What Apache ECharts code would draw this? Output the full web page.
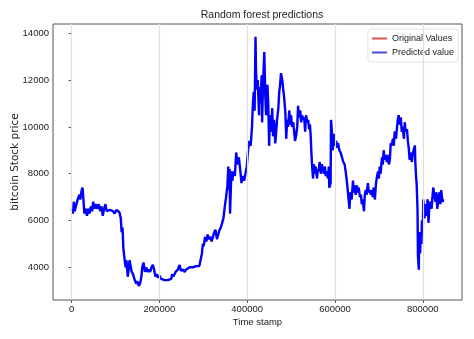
<!DOCTYPE html>
<html>
<head>
<meta charset="utf-8">
<script src="https://cdn.jsdelivr.net/npm/echarts@6/dist/echarts.min.js"></script>
<style>html,body{margin:0;padding:0;background:#fff}#c{width:474px;height:339px}</style>
</head>
<body>
<div id="c"></div>
<script>
const timestamps = [0,3000,5000,7000,11000,14000,18000,20000,23000,25000,27000,29000,32000,35000,38000,41000,44000,47000,49000,52000,55000,58000,62000,65000,68000,71000,74000,77000,80000,87000,94000,98000,102000,106000,109000,112000,114000,116000,118000,121000,123000,125000,128000,130000,132000,134000,137000,140000,143000,147000,150000,153000,156000,159000,161000,164000,167000,170000,173000,176000,179000,182000,185000,188000,191000,194000,197000,200000,204000,208000,212000,216000,219000,223000,227000,229000,232000,237000,242000,246000,249000,254000,257000,261000,265000,269000,272000,276000,280000,284000,288000,291000,295000,297000,299000,301000,304000,307000,310000,313000,316000,319000,322000,325000,328000,331000,334000,337000,340000,343000,346000,349000,352000,355000,357000,358000,360000,361000,364000,366000,369000,372000,375000,378000,381000,384000,387000,390000,393000,396000,399000,402000,405000,408000,411000,413000,415000,417000,419000,420000,422000,424000,427000,428000,430000,433000,434000,436000,439000,441000,443000,446000,448000,450000,452000,455000,457000,459000,461000,464000,466000,468000,471000,473000,475000,477000,480000,482000,484000,487000,489000,491000,493000,496000,498000,500000,502000,505000,507000,509000,512000,514000,516000,518000,521000,523000,525000,528000,530000,532000,534000,537000,539000,541000,543000,545000,546000,548000,550000,552000,554000,556000,559000,561000,563000,565000,568000,570000,572000,575000,577000,579000,581000,584000,586000,587000,590000,591000,594000,595000,597000,600000,603000,605000,607000,610000,613000,616000,619000,622000,625000,628000,631000,633000,635000,638000,641000,643000,645000,647000,650000,652000,654000,657000,659000,661000,663000,666000,668000,670000,672000,675000,677000,679000,682000,684000,686000,688000,691000,693000,695000,698000,700000,702000,704000,707000,709000,711000,713000,716000,718000,720000,723000,725000,727000,729000,732000,734000,736000,739000,741000,743000,745000,748000,750000,752000,754000,757000,759000,761000,764000,766000,768000,770000,773000,775000,777000,779000,782000,783000,785000,786000,788000,789000,791000,792000,794000,795000,797000,798000,800000,801000,804000,806000,808000,811000,813000,815000,817000,820000,822000,824000,826000,829000,831000,833000,836000,838000,840000,842000,845000,847000];
const predictedValues = [6500,6300,6800,6400,6700,6900,7100,6900,7300,7400,6900,6300,6500,6200,6500,6300,6600,6400,6800,6500,6700,6500,6700,6400,6600,6200,6500,6700,6400,6450,6400,6300,6450,6500,6350,6100,5500,5700,4800,4300,4000,4300,3600,3900,4300,4100,3800,3700,3500,3300,3400,3200,3300,3600,4000,4200,3800,4000,3800,3900,3800,4000,4100,3900,3600,3700,3550,3650,3500,3550,3450,3400,3450,3400,3500,3700,3600,3800,3900,4100,3850,3900,3800,3900,3850,4000,3950,4000,3950,4050,4000,4050,4100,4600,5000,4900,5300,5100,5400,5200,5300,5100,5300,5500,5600,5200,5400,5600,5700,5900,6100,6600,7000,7500,8300,7300,8200,6300,8100,7700,8100,7900,8900,8400,8700,8200,7600,7900,7700,8000,8300,9000,9400,9200,10000,11000,11500,10700,13850,12500,11600,12000,10500,11700,11000,12200,10200,11800,13200,11500,10500,11800,11000,9200,10500,9800,10800,9600,10300,9300,9800,10300,10800,11500,11800,12300,12000,11600,11300,10600,9500,10300,10000,10700,10100,10500,10000,10200,9800,9400,9700,10000,10900,10400,10700,10200,10500,10300,10400,9800,10500,10200,10300,9900,10100,9500,9000,8300,7800,8400,8000,8300,7800,8200,8100,8500,8000,8400,8200,8000,8300,7900,8100,7800,8300,7400,7600,10300,9500,9000,9700,9200,9400,9100,9300,9000,8900,8700,8500,8400,8000,7500,6900,6500,7200,6900,7700,7200,7500,7100,7500,7200,7400,7000,7100,6700,6900,6400,7100,7300,7100,7600,7200,7300,7100,7300,7000,7400,6900,7500,7800,8100,7800,8300,8000,8700,8400,9000,8600,8800,8500,8800,8400,8600,9300,9200,9500,9200,9800,9500,9900,10300,10500,10100,10400,9800,10000,9500,10200,9800,9900,9400,9100,8600,8900,8500,8800,9000,9200,8500,7800,7600,6500,4500,3900,5500,4600,5300,5000,6000,5400,6900,6100,6700,6200,6900,5900,6600,6800,6500,7000,7400,7100,6800,7200,6500,7000,7200,6700,7300,6800,6900];
const originalValues = predictedValues;
const xTicks = [0,200000,400000,600000,800000];
const yTicks = [4000,6000,8000,10000,12000,14000];
const seriesNames = ['Original Values','Predicted value'];

const font = '"Liberation Sans",Roboto,sans-serif';
const chart = echarts.init(document.getElementById('c'), null, {renderer:'canvas'});
const pairs = arr => timestamps.map((t,i)=>[t,arr[i]]);
chart.setOption({
  animation:false,
  backgroundColor:'#fff',
  title:{text:'Random forest predictions',left:257,top:5,textAlign:'center',
    textStyle:{fontFamily:font,fontSize:10.5,fontWeight:'normal',color:'#222'}},
  legend:{orient:'vertical',right:16,top:29,padding:[5,4,5,4],itemGap:5,
    backgroundColor:'#fff',borderColor:'#e2e2e2',borderWidth:1,borderRadius:3,
    icon:'rect',itemWidth:15,itemHeight:2,
    textStyle:{fontFamily:font,fontSize:9,color:'#222'},
    data:seriesNames},
  grid:{left:53,right:12,top:24,bottom:39,show:true,borderColor:'#555',borderWidth:1,
    backgroundColor:'#fff',containLabel:false,outerBoundsMode:'none'},
  xAxis:{type:'value',min:-42350,max:889350,
    name:'Time stamp',nameLocation:'middle',nameGap:17,nameMoveOverlap:false,
    nameTextStyle:{fontFamily:font,fontSize:9.5,color:'#222'},
    axisLine:{show:false},splitLine:{show:false},
    axisTick:{show:true,inside:false,length:3,customValues:xTicks,lineStyle:{color:'#555'}},
    axisLabel:{customValues:xTicks,formatter:v=>String(v),fontFamily:font,fontSize:9.5,color:'#222',margin:4}},
  yAxis:{type:'value',min:2600,max:14400,
    name:'bitcoin Stock price',nameLocation:'middle',nameGap:32,nameMoveOverlap:false,
    nameTextStyle:{fontFamily:'"DejaVu Sans",sans-serif',fontSize:10.5,color:'#222'},
    axisLine:{show:false},splitLine:{show:false},
    axisTick:{show:true,inside:false,length:3,customValues:yTicks,lineStyle:{color:'#555'}},
    axisLabel:{customValues:yTicks,formatter:v=>String(v),fontFamily:font,fontSize:9.5,color:'#222',margin:4}},
  series:[
    {name:seriesNames[0],type:'line',data:pairs(originalValues),showSymbol:false,symbol:'none',
     lineStyle:{color:'red',width:1},itemStyle:{color:'#e05050'},z:1,
     markLine:{silent:true,symbol:'none',label:{show:false},animation:false,
       lineStyle:{color:'#e0e0e0',width:1.2,type:'solid'},
       data:xTicks.map(v=>({xAxis:v}))}},
    {name:seriesNames[1],type:'line',data:pairs(predictedValues),showSymbol:false,symbol:'none',
     lineStyle:{color:'#0000ff',width:2.4},itemStyle:{color:'#4a4ae0'},z:2}
  ]
});
</script>
</body>
</html>
